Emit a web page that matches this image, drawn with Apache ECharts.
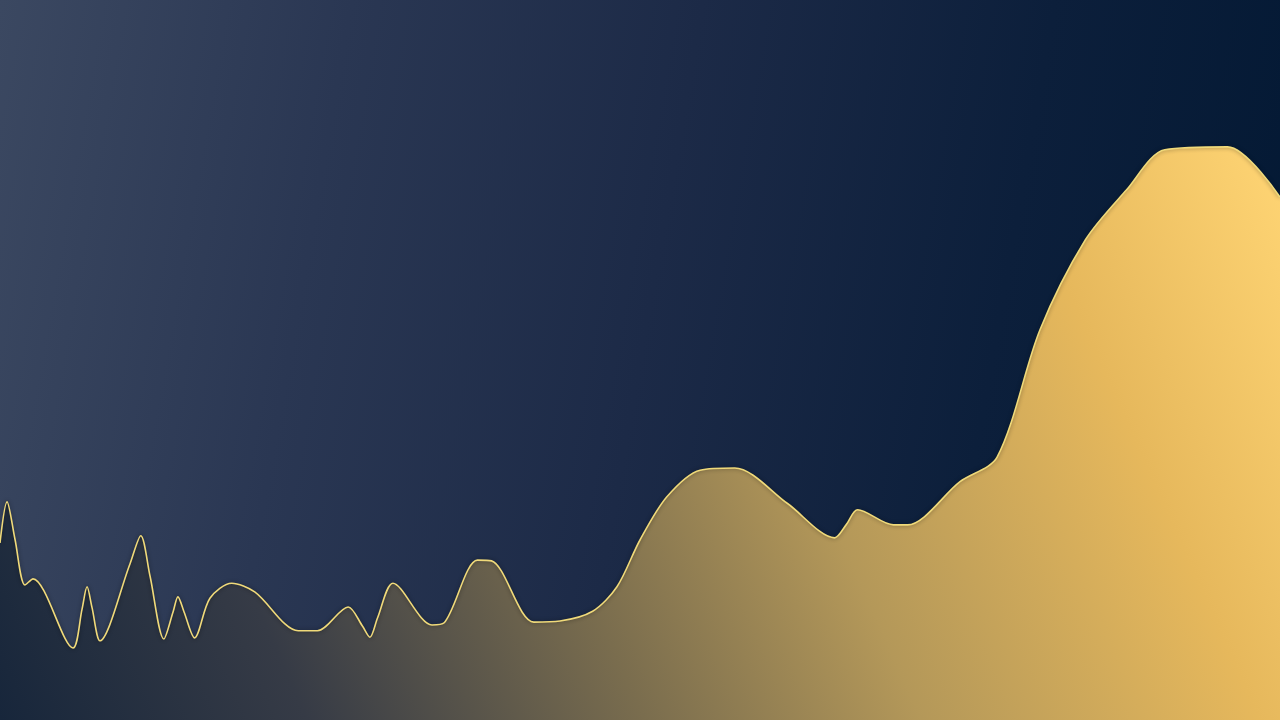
<!DOCTYPE html>
<html>
<head>
<meta charset="utf-8">
<style>
html,body{margin:0;padding:0;width:1280px;height:720px;overflow:hidden;
background:linear-gradient(100deg,#3b4861 0%,#2a3753 25%,#1c2a47 50%,#0c1f3b 75%,#021833 100%);}
#c{width:1280px;height:720px;}
</style>
<script src="https://cdn.jsdelivr.net/npm/echarts@6/dist/echarts.min.js"></script>
</head>
<body>
<div id="c"></div>
<script>
// x positions (0-100) and values (0-100)
const xs = [0, 0.55, 1.17, 1.95, 2.58, 5.7, 6.41, 6.8, 7.19, 7.81, 10.16, 11.0, 11.72, 12.8, 13.52, 13.9, 14.38, 15.2, 16.4, 18.1, 19.9, 23.3, 24.8, 27.2, 28.3, 28.9, 29.5, 30.7, 33.75, 34.7, 37.3, 38.4, 41.7, 43.75, 46.3, 48.2, 50, 52.1, 54.7, 57.4, 61.5, 65.2, 66.1, 67.0, 69.8, 70.9, 75.0, 77.9, 81.25, 84.8, 88.0, 91.0, 95.9, 100];
const ys = [24.6, 30.3, 25.1, 18.75, 19.6, 10.0, 15.4, 18.5, 15.6, 11.0, 21.7, 25.6, 20.0, 11.25, 15.0, 17.1, 15.0, 11.4, 16.9, 19.0, 17.8, 12.4, 12.4, 15.7, 13.1, 11.5, 14.2, 19.0, 13.2, 13.5, 22.2, 22.1, 13.6, 13.75, 15.1, 18.5, 25, 31.0, 34.7, 35.0, 30.1, 25.3, 27.1, 29.2, 27.1, 27.1, 33.1, 36.5, 54.2, 66.7, 73.6, 79.2, 79.6, 72.6];

const chart = echarts.init(document.getElementById('c'), null, {renderer: 'canvas'});
chart.setOption({
  backgroundColor: 'transparent',
  animation: false,
  grid: {left: 0, right: 0, top: 0, bottom: 0},
  xAxis: {type: 'value', min: 0, max: 100, show: false},
  yAxis: {type: 'value', min: 0, max: 100, show: false},
  series: [{
    type: 'line',
    smooth: 0.3,
    symbol: 'none',
    data: xs.map((x, i) => [x, ys[i]]),
    lineStyle: {color: '#f0da7a', width: 1.6, shadowColor: 'rgba(0,0,0,0.45)', shadowBlur: 4},
    areaStyle: {
      opacity: 1,
      color: new echarts.graphic.LinearGradient(0, 1, 1, 0, [
        {offset: 0, color: '#17263b'},
        {offset: 0.2, color: '#363b46'},
        {offset: 0.42, color: '#7a6d4e'},
        {offset: 0.6, color: '#b49859'},
        {offset: 0.82, color: '#e6b85c'},
        {offset: 1, color: '#ffd574'}
      ])
    }
  }]
});
</script>
</body>
</html>
